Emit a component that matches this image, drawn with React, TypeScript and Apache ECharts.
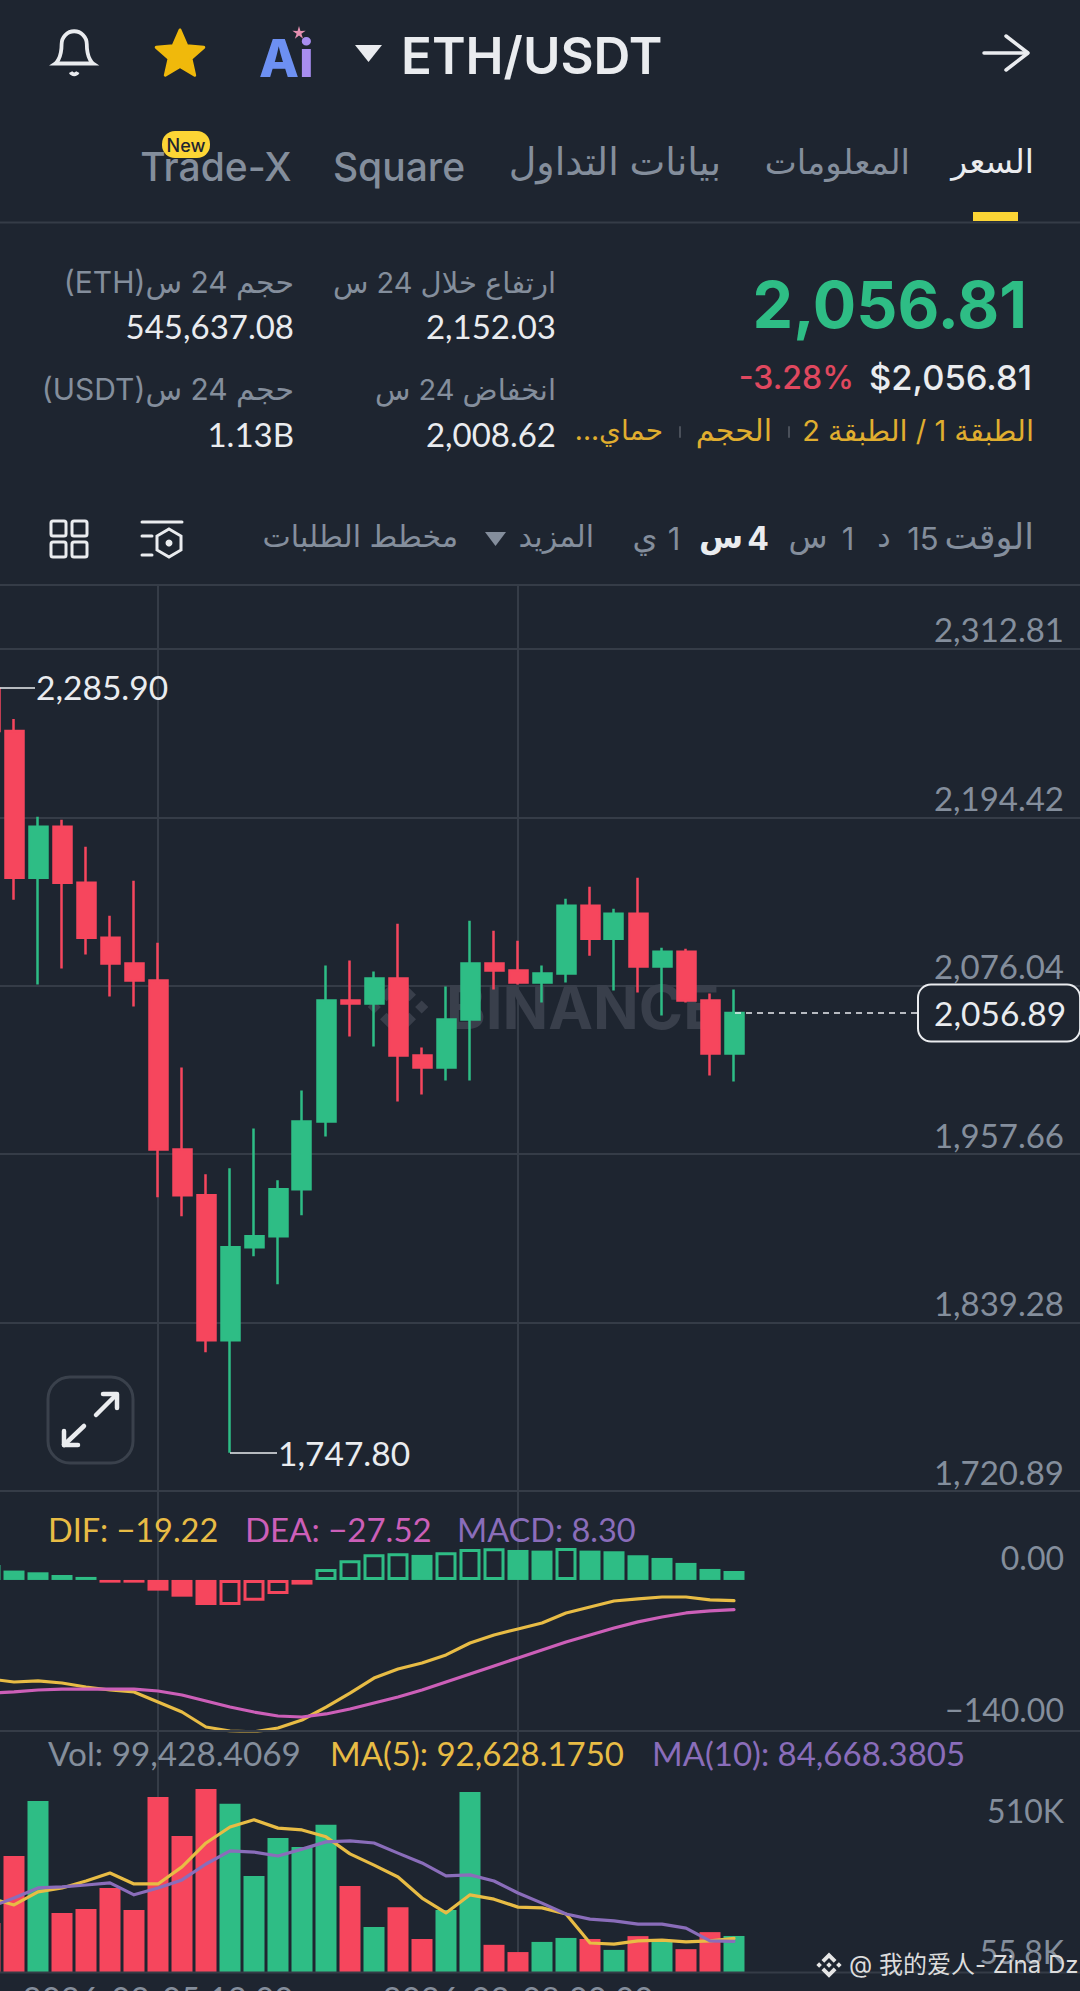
import React, { useEffect, useRef } from "react";
import * as echarts from "echarts";

const FONT = 'Inter, "Noto Sans", "DejaVu Sans", "Noto Sans CJK SC", sans-serif';
const NUMFONT = 'Lato, Inter, "Noto Sans", sans-serif';
const BG = "#1e2530";
const GREEN = "#2ebd85";
const RED = "#f6465d";
const GRIDLINE = "#353c47";
const GRAY = "#848e9c";
const WHITE = "#eaecef";
const YELLOW = "#e8bc45";
const PINK = "#cc5fb8";
const PURPLE = "#8a6dba";

const slotCount = 46;
const timeLabels: Record<number, string> = { 7: "2026-02-05 12:00", 22: "2026-02-08 00:00" };

const opens = [2284.7, 2255.23, 2152.02, 2187.83, 2148.51, 2109.89, 2091.64, 2079.7, 1961.04, 1928.74, 1826.93, 1892.23, 1899.95, 1932.95, 1980.7, 2065.66, 2063.55, 2081.1, 2027.04, 2018.61, 2052.32, 2091.64, 2086.72, 2078.3, 2084.61, 2132.36, 2109.19, 2126.74, 2089.53, 2100.06, 2065.66, 2028.44];
const closes = [2255.23, 2152.02, 2187.83, 2148.51, 2109.89, 2091.64, 2079.7, 1961.04, 1928.74, 1826.93, 1892.23, 1899.95, 1932.95, 1980.7, 2065.66, 2063.55, 2081.1, 2027.04, 2018.61, 2052.32, 2091.64, 2086.72, 2078.3, 2084.61, 2132.36, 2109.19, 2126.74, 2089.53, 2100.06, 2065.66, 2028.44, 2056.89];
const lows = [2250, 2136.57, 2076.89, 2088.13, 2097.96, 2068.47, 2061.44, 1927.34, 1913.99, 1818.5, 1747.8, 1885.91, 1866.25, 1914.7, 1970.17, 2040.38, 2033.36, 1994.74, 1999.66, 2009.49, 2009.49, 2073.38, 2076.89, 2064.25, 2078.3, 2097.25, 2072.68, 2071.27, 2055.12, 2064.25, 2013.0, 2008.78];
const highs = [2285.9, 2263.66, 2194.85, 2192.74, 2173.79, 2125.34, 2149.91, 2106.38, 2018.61, 1943.48, 1947.7, 1975.78, 1939.27, 2002.46, 2090.23, 2093.74, 2086.02, 2119.72, 2032.66, 2075.49, 2121.83, 2114.81, 2107.79, 2090.23, 2137.27, 2145.7, 2130.25, 2152.02, 2102.87, 2102.17, 2070.57, 2073.38];

const macdBars = [13.9, 8.7, 7.1, 4.6, 2.8, -2.5, -2.5, -9.9, -15.5, -23.2, -23.2, -19.2, -13, -4.3, 10.2, 18.2, 23.8, 24.7, 23.2, 25.6, 28.7, 29.4, 27.8, 27.2, 29.7, 27.2, 26.6, 22.9, 20.4, 15.8, 10.2, 8.3];
const macdHollow = [0, 0, 0, 0, 0, 0, 0, 0, 0, 0, 1, 1, 1, 0, 1, 1, 1, 1, 0, 1, 1, 1, 0, 0, 1, 0, 0, 0, 0, 0, 0, 0];
const dif = [-91.8, -94.6, -93.6, -95.5, -99.2, -102, -103.8, -113.1, -122.4, -136.3, -140, -140.9, -137.2, -129.8, -117.8, -104.8, -90.9, -82.5, -77, -69.5, -58.4, -51, -45.4, -39.9, -30.6, -25, -19.5, -17.6, -15.8, -15.8, -18.5, -19.22];
const dea = [-104.8, -103.8, -102, -101.1, -101.1, -101.1, -101.1, -102.9, -106.6, -112.2, -117.8, -122.4, -126.1, -127, -124.2, -119.6, -114, -108.5, -102, -94.6, -87.2, -79.7, -72.3, -64.9, -57.5, -51, -44.5, -38.9, -34.3, -30.6, -28.7, -27.52];

const volumes = [135, 320, 472, 163, 174, 232, 171, 483, 375, 505, 464, 265, 370, 345, 406, 237, 124, 179, 91, 171, 497, 75, 55, 83, 94, 91, 61, 99, 83, 63, 110, 99.43];
const ma5 = [204, 185, 221, 232, 251, 273, 243, 243, 290, 356, 400, 420, 397, 392, 373, 326, 295, 262, 204, 163, 213, 201, 179, 177, 160, 80, 77, 86, 88, 83, 86, 92.63];
const ma10 = [179, 204, 232, 235, 240, 246, 213, 232, 254, 298, 334, 331, 320, 339, 359, 362, 356, 328, 301, 265, 268, 251, 218, 190, 160, 146, 141, 132, 132, 121, 86, 84.67];

const priceTicks = [1720.89, 1839.28, 1957.66, 2076.04, 2194.42, 2312.81];
const priceTickLabels = ["1,720.89", "1,839.28", "1,957.66", "2,076.04", "2,194.42", "2,312.81"];
const macdTicks = [-140, 0];
const macdTickLabels = ["−140.00", "0.00"];
const volumeTicks = [55.8, 510];
const volumeTickLabels = ["55.8K", "510K"];

const lastPrice = 2056.89;
const highPrice = 2285.9;
const lowPrice = 1747.8;

const BELL = "M6 8a6 6 0 0 1 12 0c0 7 3 9 3 9H3s3-2 3-9 M10.3 21a1.94 1.94 0 0 0 3.4 0";
const BNB = "M8.2 10.1L12 6.3l3.8 3.8 2.2-2.2L12 1.9 6 7.9z M1.9 12l2.2-2.2L6.3 12l-2.2 2.2z M8.2 13.9L12 17.7l3.8-3.8 2.2 2.2L12 22.1 6 16.1z M17.7 12l2.2-2.2 2.2 2.2-2.2 2.2z M14.2 12L12 9.8 9.8 12l2.2 2.2z";
echarts.graphic.registerShape("bellIcon", echarts.graphic.extendPath(BELL, {}) as any);
echarts.graphic.registerShape("bnbIcon", echarts.graphic.extendPath(BNB, {}) as any);

const fmt = (v: number) => v.toLocaleString("en-US", { minimumFractionDigits: 2, maximumFractionDigits: 2 });

function txt(x: number, y: number, text: string, fill: string, size: number, align = "right", weight = 400, z = 10, family = FONT) {
  return {
    type: "text", x, y, z, silent: true,
    style: { text, fill, font: `${weight} ${size}px ${family}`, align, verticalAlign: "middle" },
  };
}
function ln(x1: number, y1: number, x2: number, y2: number, stroke: string, lineWidth = 2) {
  return { type: "line", z: 10, silent: true, shape: { x1, y1, x2, y2 }, style: { stroke, lineWidth, lineCap: "round" } };
}
function poly(points: number[][], fill: string, z = 10) {
  return { type: "polygon", z, silent: true, shape: { points }, style: { fill } };
}
function pline(points: number[][], stroke: string, lineWidth = 3) {
  return { type: "polyline", z: 10, silent: true, shape: { points }, style: { stroke, lineWidth, fill: "none", lineCap: "round", lineJoin: "round" } };
}
function starPts(cx: number, cy: number, R: number, r: number) {
  const pts: number[][] = [];
  for (let i = 0; i < 10; i++) {
    const a = -Math.PI / 2 + (i * Math.PI) / 5;
    const rad = i % 2 ? r : R;
    pts.push([cx + rad * Math.cos(a), cy + rad * Math.sin(a)]);
  }
  return pts;
}

function buildGraphic() {
  const els: any[] = [];
  // top bar
  els.push({ type: "bellIcon", x: 49, y: 27, scaleX: 2.1, scaleY: 2.15, z: 10, silent: true, style: { fill: "none", stroke: WHITE, lineWidth: 1.8 } });
  els.push({ type: "polygon", z: 10, silent: true, shape: { points: starPts(180, 55, 25, 11.5) }, style: { fill: "#f0b90b", stroke: "#f0b90b", lineWidth: 3, lineJoin: "round" } });
  els.push({
    type: "text", x: 259, y: 58, z: 10, silent: true,
    style: {
      text: "{a|A}{b|i}", align: "left", verticalAlign: "middle",
      rich: {
        a: { fill: "#6d90f2", font: `800 52px ${FONT}`, fontFamily: FONT, fontSize: 52, fontWeight: 800 },
        b: { fill: "#a88df0", font: `800 52px ${FONT}`, fontFamily: FONT, fontSize: 52, fontWeight: 800 },
      },
    },
  });
  els.push(poly(starPts(299, 33, 7, 2.5), "#e58fb0"));
  els.push(poly([[355, 45], [382, 45], [368.5, 62]], WHITE));
  els.push(txt(401, 55, "ETH/USDT", WHITE, 51, "left", 600));
  els.push(ln(984, 53, 1027, 53, WHITE, 3.5));
  els.push(pline([[1006, 36], [1028, 53], [1006, 70]], WHITE, 3.5));
  // tabs
  els.push(txt(1034, 161, "السعر", WHITE, 33, "right"));
  els.push(txt(910, 161, "المعلومات", GRAY, 34, "right"));
  els.push(txt(721, 161, "بيانات التداول", GRAY, 38, "right"));
  els.push(txt(399, 166, "Square", GRAY, 39, "center", 500));
  els.push(txt(216, 166, "Trade-X", GRAY, 39, "center", 500));
  els.push({ type: "rect", z: 11, silent: true, shape: { x: 162, y: 131, width: 48, height: 27, r: 13 }, style: { fill: "#fcd535" } });
  els.push(txt(186, 145, "New", "#1e2530", 18, "center", 500, 12));
  els.push({ type: "rect", z: 10, silent: true, shape: { x: 973, y: 212, width: 45, height: 9 }, style: { fill: "#fcd535" } });
  els.push(ln(0, 222.5, 1080, 222.5, GRIDLINE, 2));
  // price
  els.push(txt(1027, 305, "2,056.81", GREEN, 64.5, "right", 700));
  els.push(txt(854, 377, "-3.28%", "#e0485f", 32, "right", 500));
  els.push(txt(1032, 377, "$2,056.81", WHITE, 34.5, "right", 500));
  // tags
  els.push(txt(1034, 430, "الطبقة 1 / الطبقة 2", "#e0ae2f", 29, "right"));
  els.push(txt(772, 430, "الحجم", "#e0ae2f", 30, "right"));
  els.push(txt(663, 430, "حماي...\u200F", "#e0ae2f", 28, "right"));
  els.push(ln(789, 427, 789, 437, "#4a505a", 2));
  els.push(ln(680, 427, 680, 437, "#4a505a", 2));
  // stats
  els.push(txt(556, 282, "ارتفاع خلال 24 س", GRAY, 29, "right"));
  els.push(txt(556, 326, "2,152.03", WHITE, 33, "right", 400, 10, NUMFONT));
  els.push(txt(556, 389, "انخفاض 24 س", GRAY, 29, "right"));
  els.push(txt(556, 434, "2,008.62", WHITE, 33, "right", 400, 10, NUMFONT));
  els.push(txt(294, 282, "(ETH)حجم 24 س", GRAY, 30, "right"));
  els.push(txt(294, 326, "545,637.08", WHITE, 33, "right", 400, 10, NUMFONT));
  els.push(txt(294, 389, "(USDT)حجم 24 س", GRAY, 30, "right"));
  els.push(txt(294, 434, "1.13B", WHITE, 33, "right", 400, 10, NUMFONT));
  // toolbar
  els.push(txt(1034, 536, "الوقت", GRAY, 35, "right"));
  els.push(txt(923, 538, "15", GRAY, 31, "center"));
  els.push(txt(884, 536, "د", GRAY, 30, "center"));
  els.push(txt(848, 538, "1", GRAY, 31, "center"));
  els.push(txt(808, 536, "س", GRAY, 32, "center"));
  els.push(txt(758, 538, "4", WHITE, 32, "center", 700));
  els.push(txt(721, 536, "س", WHITE, 32, "center", 700));
  els.push(txt(674, 538, "1", GRAY, 31, "center"));
  els.push(txt(645, 536, "ي", GRAY, 32, "center"));
  els.push(txt(594, 536, "المزيد", GRAY, 30, "right"));
  els.push(poly([[485, 532], [506, 532], [495.5, 546]], GRAY));
  els.push(txt(458, 536, "مخطط الطلبات", GRAY, 30, "right"));
  for (const [x, y] of [[51, 521], [72, 521], [51, 542], [72, 542]]) {
    els.push({ type: "rect", z: 10, silent: true, shape: { x, y, width: 15, height: 15, r: 2 }, style: { fill: "none", stroke: WHITE, lineWidth: 3 } });
  }
  els.push(ln(142, 522, 182, 522, WHITE, 3));
  els.push(ln(142, 536, 152, 536, WHITE, 3));
  els.push(ln(142, 555, 152, 555, WHITE, 3));
  els.push({ type: "polygon", z: 10, silent: true, shape: { points: [[169, 529], [181, 536], [181, 550], [169, 557], [157, 550], [157, 536]] }, style: { fill: "none", stroke: WHITE, lineWidth: 3 } });
  els.push({ type: "circle", z: 10, silent: true, shape: { cx: 169, cy: 543, r: 3.5 }, style: { fill: WHITE } });
  // chart separators
  els.push(ln(0, 585, 1080, 585, GRIDLINE, 2));
  els.push(ln(0, 1731, 1080, 1731, GRIDLINE, 2));
  els.push(ln(0, 1972.5, 1080, 1972.5, GRIDLINE, 2));
  // background watermark
  els.push({ type: "bnbIcon", x: 362, y: 971, scaleX: 3, scaleY: 3, z: 1, silent: true, style: { fill: "#393f4b" } });
  els.push(txt(446, 1007, "BINANCE", "#393f4b", 60, "left", 700, 1));
  // expand button
  els.push({ type: "rect", z: 10, silent: true, shape: { x: 48, y: 1377, width: 85, height: 86, r: 22 }, style: { fill: "none", stroke: "#3a414c", lineWidth: 3 } });
  els.push(ln(96, 1415, 116, 1395, WHITE, 4.5));
  els.push(pline([[103, 1394], [117, 1394], [117, 1408]], WHITE, 4.5));
  els.push(ln(84, 1426, 64, 1445, WHITE, 4.5));
  els.push(pline([[64, 1431], [64, 1445], [78, 1445]], WHITE, 4.5));
  // panel legends
  els.push(txt(48, 1529, "DIF: −19.22", YELLOW, 32.5, "left", 400, 10, NUMFONT));
  els.push(txt(245, 1529, "DEA: −27.52", PINK, 33, "left", 400, 10, NUMFONT));
  els.push(txt(457, 1529, "MACD: 8.30", PURPLE, 32.5, "left", 400, 10, NUMFONT));
  els.push(txt(48, 1753, "Vol: 99,428.4069", GRAY, 33.3, "left", 400, 10, NUMFONT));
  els.push(txt(330, 1753, "MA(5): 92,628.1750", YELLOW, 33, "left", 400, 10, NUMFONT));
  els.push(txt(652, 1753, "MA(10): 84,668.3805", PURPLE, 33, "left", 400, 10, NUMFONT));
  // author credit
  els.push({ type: "bnbIcon", x: 814, y: 1950, scaleX: 1.25, scaleY: 1.25, z: 20, silent: true, style: { fill: "#e6e6e6" } });
  els.push(txt(849, 1964, "@ 我的爱人- Zina Dz", "#dcdcdc", 24, "left", 400, 20));
  return els;
}

const labelStyle = { color: WHITE, fontFamily: NUMFONT, fontSize: 33.5 };

function leader(x: number, idx: number, value: number, text: string, startX?: number) {
  const start: any = { xAxis: idx, yAxis: value, label: { show: true, position: "end", distance: 1, formatter: text, ...labelStyle } };
  if (startX !== undefined) start.x = startX;
  return [start, { x, xAxis: idx, yAxis: value }];
}

export default function App() {
  const ref = useRef<HTMLDivElement>(null);
  useEffect(() => {
    document.body.style.margin = "0";
    document.body.style.background = BG;
    const chart = echarts.init(ref.current!, undefined, { renderer: "svg" });
    const categories = Array.from({ length: slotCount }, (_, i) => timeLabels[i] ?? String(i));
    const isLabeled = (i: number) => timeLabels[i] !== undefined;
    const grids = [
      { left: -22, width: 1104, top: 585, height: 906, outerBoundsMode: "none" },
      { left: -22, width: 1104, top: 1491, height: 240, outerBoundsMode: "none" },
      { left: -22, width: 1104, top: 1731, height: 241, outerBoundsMode: "none" },
    ];
    const xAxis = grids.map((_, gi) => ({
      type: "category",
      gridIndex: gi,
      data: categories,
      axisLine: { show: false },
      axisTick: { show: false },
      splitLine: { show: true, interval: (i: number) => isLabeled(i), alignWithLabel: true, lineStyle: { color: GRIDLINE, width: 2 } },
      axisLabel: gi === 2
        ? { show: true, interval: (i: number) => isLabeled(i), color: GRAY, fontFamily: NUMFONT, fontSize: 33, margin: 9, verticalAlign: "top", hideOverlap: false }
        : { show: false },
    }));
    const axisLabelBase = { inside: true, color: GRAY, fontFamily: NUMFONT, fontSize: 32, margin: 18, showMinLabel: true, showMaxLabel: true };
    const yAxis = [
      {
        type: "value", gridIndex: 0, position: "right", min: 1720.89, max: 2357.8, scale: true,
        axisLine: { show: false },
        axisTick: { show: false, customValues: priceTicks },
        splitLine: { show: true, lineStyle: { color: GRIDLINE, width: 2 } },
        axisLabel: { ...axisLabelBase, fontSize: 33, customValues: priceTicks, verticalAlign: "bottom", padding: [0, 0, 3, 0], formatter: (v: number) => priceTickLabels[priceTicks.indexOf(v)] ?? "" },
      },
      {
        type: "value", gridIndex: 1, position: "right", min: -140, max: 82.45, scale: true,
        axisLine: { show: false },
        axisTick: { show: false, customValues: macdTicks },
        splitLine: { show: false },
        axisLabel: { ...axisLabelBase, customValues: macdTicks, verticalAlign: "bottom", padding: [0, 0, 6, 0], formatter: (v: number) => macdTickLabels[macdTicks.indexOf(v)] ?? "" },
      },
      {
        type: "value", gridIndex: 2, position: "right", min: 0, max: 665,
        axisLine: { show: false },
        axisTick: { show: false, customValues: volumeTicks },
        splitLine: { show: false },
        axisLabel: {
          ...axisLabelBase, customValues: volumeTicks, verticalAlign: "middle",
          formatter: (v: number) => (v === 510 ? "{t|510K}" : volumeTickLabels[0]),
          rich: { t: { color: GRAY, fontFamily: NUMFONT, fontSize: 32, padding: [47, 0, 0, 0] } },
        },
      },
    ];
    const candleData = opens.map((o, i) => [o, closes[i], lows[i], highs[i]]);
    const lineOf = (data: number[], color: string, gi: number, width = 3.2) => ({
      type: "line", xAxisIndex: gi, yAxisIndex: gi, data, showSymbol: false, symbol: "none", smooth: false,
      lineStyle: { color, width, cap: "round", join: "round" }, itemStyle: { color }, z: 5, silent: true,
    });
    chart.setOption({
      animation: false,
      backgroundColor: BG,
      tooltip: { show: false },
      grid: grids,
      xAxis,
      yAxis,
      graphic: { elements: buildGraphic() },
      series: [
        {
          type: "candlestick", xAxisIndex: 0, yAxisIndex: 0, data: candleData, barWidth: 18.5, silent: true, z: 4,
          itemStyle: { color: GREEN, color0: RED, borderColor: GREEN, borderColor0: RED, borderWidth: 2.5 },
          markLine: {
            silent: true, symbol: "none", animation: false,
            lineStyle: { color: WHITE, width: 1.5, type: "solid" },
            data: [
              leader(35, 0, highPrice, fmt(highPrice), 0),
              leader(277, 10, lowPrice, fmt(lowPrice)),
              [
                {
                  xAxis: 31, yAxis: lastPrice, x: 735,
                  lineStyle: { color: WHITE, width: 1.5, type: [6, 5] },
                  label: {
                    show: true, position: "end", distance: 0, formatter: fmt(lastPrice), ...labelStyle,
                    backgroundColor: BG, borderColor: WHITE, borderWidth: 2, borderRadius: 12, padding: [11, 13, 10, 15],
                  },
                },
                { x: 919, xAxis: 31, yAxis: lastPrice },
              ],
            ],
          },
        },
        {
          type: "bar", xAxisIndex: 1, yAxisIndex: 1, barWidth: 21, silent: true, z: 3,
          data: macdBars.map((v, i) => {
            const c = v >= 0 ? GREEN : RED;
            return macdHollow[i]
              ? { value: v, itemStyle: { color: BG, borderColor: c, borderWidth: 3 } }
              : { value: v, itemStyle: { color: c } };
          }),
        },
        lineOf(dif, YELLOW, 1),
        lineOf(dea, PINK, 1),
        {
          type: "bar", xAxisIndex: 2, yAxisIndex: 2, barWidth: 21, silent: true, z: 3,
          data: volumes.map((v, i) => ({ value: v, itemStyle: { color: closes[i] >= opens[i] ? GREEN : RED } })),
        },
        lineOf(ma5, YELLOW, 2),
        lineOf(ma10, PURPLE, 2),
      ],
    });
    return () => chart.dispose();
  }, []);
  return <div ref={ref} style={{ width: 1080, height: 1991 }} />;
}
